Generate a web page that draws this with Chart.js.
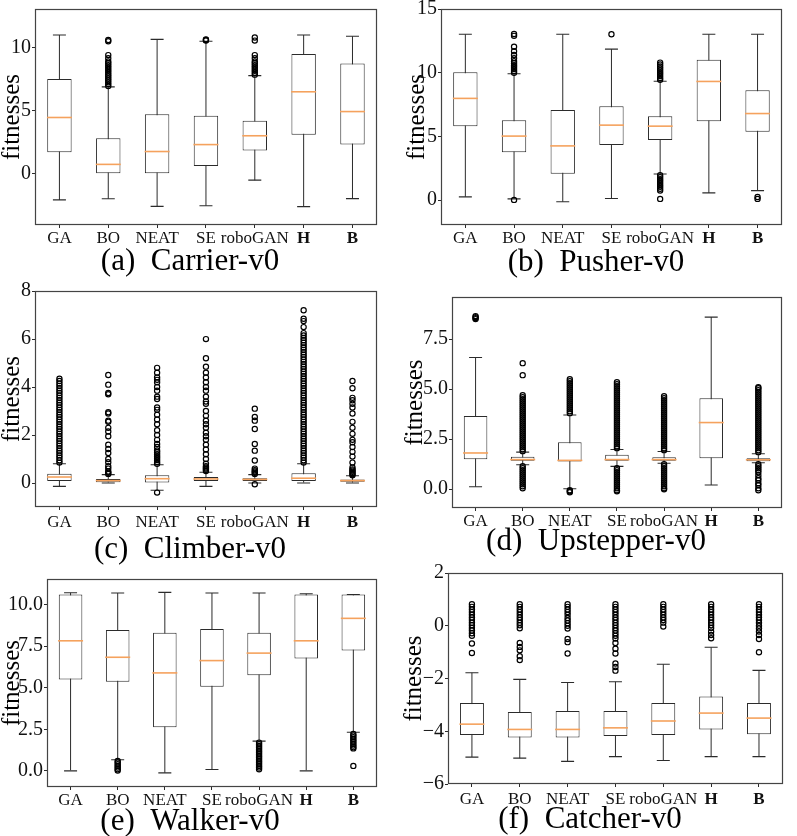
<!DOCTYPE html>
<html>
<head>
<meta charset="utf-8">
<title>Fitness box plots</title>
<script src="https://cdn.jsdelivr.net/npm/chart.js"></script>
<style>
  html, body { margin: 0; padding: 0; background: #fff; overflow: hidden; }
  body { position: relative; width: 797px; height: 836px; }
  canvas { position: absolute; }
</style>
</head>
<body>
<script>
// Box plots of fitness per method, six environments

const categories = ['GA', 'BO', 'NEAT', 'SE', 'roboGAN', 'H', 'B'];

// (a) Carrier-v0
const carrierLow = [-2.09, -2.0, -2.6, -2.55, -0.52, -2.62, -1.99];
const carrierQ1 = [1.70, 0.03, 0.03, 0.6, 1.83, 3.09, 2.3];
const carrierMedian = [4.45, 0.73, 1.75, 2.30, 3.0, 6.49, 4.92];
const carrierQ3 = [7.51, 2.80, 4.71, 4.58, 4.19, 9.48, 8.74];
const carrierHigh = [11.0, 6.88, 10.65, 10.5, 7.77, 11.0, 10.9];
const carrierOutliers = [
  [],
  [6.95, 7.1, 7.25, 7.4, 7.55, 7.7, 7.85, 8.0, 8.15, 8.3, 8.45, 8.6, 8.75, 8.9, 9.15, 9.4, 10.5, 10.6],
  [],
  [10.55, 10.6, 10.65],
  [7.85, 8.0, 8.15, 8.3, 8.45, 8.6, 8.75, 8.9, 9.15, 9.4, 10.55, 10.8],
  [],
  []
];
const carrierRange = [-4.08, 13.05];
const carrierTicks = [0, 5, 10];
const carrierTickLabels = ['0', '5', '10'];

// (b) Pusher-v0
const pusherLow = [0.26, 0.1, -0.13, 0.13, 2.05, 0.57, 0.75];
const pusherQ1 = [5.81, 3.76, 2.08, 4.33, 4.72, 6.2, 5.37];
const pusherMedian = [7.99, 5.03, 4.26, 5.89, 5.81, 9.32, 6.80];
const pusherQ3 = [10.04, 6.28, 7.08, 7.37, 6.59, 11.03, 8.62];
const pusherHigh = [13.03, 9.93, 13.03, 11.86, 9.34, 13.03, 13.03];
const pusherOutliers = [
  [],
  [10.0, 10.15, 10.3, 10.45, 10.6, 10.75, 10.9, 11.15, 11.4, 11.7, 12.05, 12.9, 13.05, 0.02],
  [],
  [13.03],
  [9.45, 9.6, 9.75, 9.9, 10.05, 10.2, 10.35, 10.5, 10.65, 10.8, 1.95, 1.8, 1.65, 1.5, 1.35, 1.2, 1.05, 0.9, 0.75, 0.1],
  [],
  [0.1, 0.25]
];
const pusherRange = [-1.95, 15];
const pusherTicks = [0, 5, 10, 15];
const pusherTickLabels = ['0', '5', '10', '15'];

// (c) Climber-v0
const climberLow = [-0.14, 0.0, -0.3, -0.14, 0.0, 0.0, 0.0];
const climberQ1 = [0.08, 0.03, 0.0, 0.08, 0.08, 0.08, 0.05];
const climberMedian = [0.25, 0.1, 0.18, 0.17, 0.15, 0.2, 0.1];
const climberQ3 = [0.39, 0.17, 0.32, 0.25, 0.2, 0.41, 0.15];
const climberHigh = [0.8, 0.35, 0.76, 0.45, 0.35, 0.8, 0.3];
const climberOutliers = [
  [0.85, 0.95, 1.05, 1.15, 1.25, 1.35, 1.45, 1.55, 1.65, 1.75, 1.85, 1.95, 2.05, 2.15, 2.25, 2.35, 2.45, 2.55,
   2.65, 2.75, 2.85, 2.95, 3.05, 3.15, 3.25, 3.35, 3.45, 3.55, 3.65, 3.75, 3.85, 3.95, 4.05, 4.15, 4.25, 4.35],
  [0.38, 0.43, 0.48, 0.6, 0.7, 0.87, 1.0, 1.25, 1.42, 1.6, 1.95, 2.15, 2.3, 2.55, 2.6, 2.9, 2.95, 3.7, 3.75, 4.1, 4.5],
  [0.8, 0.88, 0.96, 1.04, 1.12, 1.2, 1.28, 1.36, 1.5, 1.63, 1.8, 2.0, 2.2, 2.45, 2.65, 2.85, 3.05, 3.15, 3.5, 3.6,
   3.85, 4.0, 4.2, 4.3, 4.4, 4.6, 4.8, -0.4],
  [0.5, 0.55, 0.6, 0.65, 0.7, 0.8, 1.0, 1.2, 1.4, 1.6, 1.8, 1.95, 2.1, 2.3, 2.45, 2.6, 2.8, 3.0, 3.3, 3.4, 3.6,
   3.85, 4.0, 4.2, 4.4, 4.6, 4.85, 5.2, 6.0],
  [0.38, 0.43, 0.48, 0.53, 0.6, 0.94, 1.35, 1.63, 2.25, 2.6, 2.75, 3.1, -0.05],
  [0.85, 0.95, 1.05, 1.15, 1.25, 1.35, 1.45, 1.55, 1.65, 1.75, 1.85, 1.95, 2.05, 2.15, 2.25, 2.35, 2.45, 2.55,
   2.65, 2.75, 2.85, 2.95, 3.05, 3.15, 3.25, 3.35, 3.45, 3.55, 3.65, 3.75, 3.85, 3.95, 4.05, 4.15, 4.25, 4.35,
   4.45, 4.55, 4.65, 4.75, 4.85, 4.95, 5.05, 5.15, 5.25, 5.35, 5.45, 5.55, 5.65, 5.75, 5.85, 5.95, 6.05, 6.15,
   6.25, 6.5, 6.75, 6.85, 7.2],
  [0.32, 0.37, 0.42, 0.47, 0.52, 0.57, 0.65, 0.85, 1.1, 1.3, 1.5, 1.7, 1.8, 2.05, 2.3, 2.55, 2.9, 3.15, 3.3, 3.45,
   3.55, 3.95, 4.25]
];
const climberRange = [-1.0, 8];
const climberTicks = [0, 2, 4, 6, 8];
const climberTickLabels = ['0', '2', '4', '6', '8'];

// (d) Upstepper-v0
const upstepperLow = [0.12, 1.22, 0.02, 1.14, 1.3, 0.21, 1.32];
const upstepperQ1 = [1.5, 1.42, 1.39, 1.42, 1.42, 1.55, 1.4];
const upstepperMedian = [1.81, 1.48, 1.44, 1.48, 1.48, 3.33, 1.47];
const upstepperQ3 = [3.66, 1.62, 2.34, 1.72, 1.6, 4.54, 1.55];
const upstepperHigh = [6.58, 1.85, 3.71, 1.98, 1.88, 8.6, 1.77];
const upstepperOutliers = [
  [8.5, 8.55, 8.6, 8.65],
  [1.9, 2.0, 2.1, 2.2, 2.3, 2.4, 2.5, 2.6, 2.7, 2.8, 2.9, 3.0, 3.1, 3.2, 3.3, 3.4, 3.5, 3.6, 3.7, 3.8, 3.9, 4.0,
   4.1, 4.2, 4.3, 4.4, 4.5, 4.6, 4.7, 5.7, 6.3,
   1.15, 1.05, 0.95, 0.85, 0.75, 0.65, 0.55, 0.45, 0.35, 0.25, 0.15, 0.05],
  [3.8, 3.9, 4.0, 4.1, 4.2, 4.3, 4.4, 4.5, 4.6, 4.7, 4.8, 4.9, 5.0, 5.1, 5.2, 5.3, 5.4, 5.5, -0.05, -0.1, -0.15],
  [2.05, 2.15, 2.25, 2.35, 2.45, 2.55, 2.65, 2.75, 2.85, 2.95, 3.05, 3.15, 3.25, 3.35, 3.45, 3.55, 3.65, 3.75,
   3.85, 3.95, 4.05, 4.15, 4.25, 4.35, 4.45, 4.55, 4.65, 4.75, 4.85, 4.95, 5.05, 5.15, 5.25, 5.35,
   1.05, 0.95, 0.85, 0.75, 0.65, 0.55, 0.45, 0.35, 0.25, 0.15, 0.05, -0.05, -0.1],
  [1.95, 2.05, 2.15, 2.25, 2.35, 2.45, 2.55, 2.65, 2.75, 2.85, 2.95, 3.05, 3.15, 3.25, 3.35, 3.45, 3.55, 3.65,
   3.75, 3.85, 3.95, 4.05, 4.15, 4.25, 4.35, 4.45, 4.55, 4.65,
   1.25, 1.15, 1.05, 0.95, 0.85, 0.75, 0.65, 0.55, 0.45, 0.35, 0.25, 0.15, 0.05, 0.0],
  [],
  [1.85, 1.95, 2.05, 2.15, 2.25, 2.35, 2.45, 2.55, 2.65, 2.75, 2.85, 2.95, 3.05, 3.15, 3.25, 3.35, 3.45, 3.55,
   3.65, 3.75, 3.85, 3.95, 4.05, 4.15, 4.25, 4.35, 4.45, 4.55, 4.65, 4.75, 4.85, 4.95, 5.05, 5.1,
   1.25, 1.15, 1.05, 0.95, 0.85, 0.7, 0.55, 0.45, 0.3, 0.2, 0.05, -0.05]
];
const upstepperRange = [-0.94, 9.6];
const upstepperTicks = [0, 2.5, 5, 7.5];
const upstepperTickLabels = ['0.0', '2.5', '5.0', '7.5'];

// (e) Walker-v0
const walkerLow = [0.0, 0.67, -0.12, 0.08, 1.79, 0.0, 2.32];
const walkerQ1 = [5.5, 5.36, 2.62, 5.06, 5.75, 6.75, 7.24];
const walkerMedian = [7.82, 6.83, 5.89, 6.63, 7.08, 7.82, 9.17];
const walkerQ3 = [10.6, 8.47, 8.31, 8.53, 8.31, 10.6, 10.6];
const walkerHigh = [10.71, 10.69, 10.73, 10.69, 10.69, 10.65, 10.6];
const walkerOutliers = [
  [],
  [0.6, 0.5, 0.4, 0.3, 0.2, 0.1, 0.02],
  [],
  [],
  [1.7, 1.6, 1.5, 1.4, 1.3, 1.2, 1.1, 1.0, 0.9, 0.8, 0.7, 0.6, 0.5, 0.4, 0.3, 0.2, 0.1],
  [],
  [2.22, 2.12, 2.02, 1.92, 1.82, 1.72, 1.62, 1.52, 1.42, 1.35, 0.3]
];
const walkerRange = [-0.97, 11.53];
const walkerTicks = [0, 2.5, 5, 7.5, 10];
const walkerTickLabels = ['0.0', '2.5', '5.0', '7.5', '10.0'];

// (f) Catcher-v0
const catcherLow = [-4.98, -5.02, -5.14, -4.96, -5.11, -4.96, -4.96];
const catcherQ1 = [-4.14, -4.24, -4.24, -4.18, -4.14, -3.93, -4.11];
const catcherMedian = [-3.73, -3.93, -3.93, -3.87, -3.61, -3.31, -3.5];
const catcherQ3 = [-2.93, -3.27, -3.23, -3.23, -2.93, -2.68, -2.93];
const catcherHigh = [-1.78, -2.03, -2.15, -2.12, -1.46, -0.81, -1.69];
const catcherOutliers = [
  [0.82, 0.72, 0.62, 0.52, 0.42, 0.32, 0.22, 0.12, 0.02, -0.08, -0.18, -0.28, -0.38, -0.67, -1.03],
  [0.82, 0.72, 0.62, 0.52, 0.42, 0.32, 0.22, 0.12, 0.02, -0.09, -0.65, -0.8, -0.93, -1.15, -1.3],
  [0.82, 0.72, 0.62, 0.52, 0.42, 0.3, 0.2, 0.1, 0.0, -0.1, -0.5, -0.62, -1.05],
  [0.82, 0.72, 0.62, 0.52, 0.42, 0.32, 0.22, 0.12, 0.02, -0.08, -0.18, -0.28, -0.38, -0.48, -0.65, -0.87, -1.05,
   -1.43, -1.56, -1.7],
  [0.82, 0.72, 0.62, 0.52, 0.42, 0.32, 0.22, 0.12, -0.03],
  [0.82, 0.72, 0.62, 0.52, 0.42, 0.32, 0.22, 0.12, 0.02, -0.08, -0.22, -0.35, -0.47],
  [0.82, 0.72, 0.62, 0.52, 0.42, 0.32, 0.22, 0.12, 0.0, -0.1, -0.22, -0.35, -0.5, -1.0]
];
const catcherRange = [-6, 2];
const catcherTicks = [-6, -4, -2, 0, 2];
const catcherTickLabels = ['\u22126', '\u22124', '\u22122', '0', '2'];

// Styles
const SERIF = "'Liberation Serif', 'Times New Roman', serif";
const LINE = '#2b2b2b';
const MEDIAN = '#f5a25d';
const TITLE_SIZE = 31;
const YLAB_SIZE = 25;
const XTICK_SIZE = 17;
const YTICK_SIZE = 20;
const TICK_LEN = 3;

// Panel placement on the page: plot box (L,T,R,B), title centre (tx,ty),
// x tick label centre line (xy), y label centre (yx)
const panels = [
  { title: '(a)  Carrier-v0', low: carrierLow, q1: carrierQ1, median: carrierMedian, q3: carrierQ3, high: carrierHigh,
    outliers: carrierOutliers, range: carrierRange, ticks: carrierTicks, tickLabels: carrierTickLabels,
    box: { L: 35, T: 7, R: 387, B: 225, tx: 190, ty: 262, xy: 239, yx: 12 } },
  { title: '(b)  Pusher-v0', low: pusherLow, q1: pusherQ1, median: pusherMedian, q3: pusherQ3, high: pusherHigh,
    outliers: pusherOutliers, range: pusherRange, ticks: pusherTicks, tickLabels: pusherTickLabels,
    box: { L: 441, T: 7, R: 792, B: 225, tx: 596, ty: 263, xy: 239, yx: 417 } },
  { title: '(c)  Climber-v0', low: climberLow, q1: climberQ1, median: climberMedian, q3: climberQ3, high: climberHigh,
    outliers: climberOutliers, range: climberRange, ticks: climberTicks, tickLabels: climberTickLabels,
    box: { L: 35, T: 289, R: 387, B: 507, tx: 190, ty: 550, xy: 523, yx: 12 } },
  { title: '(d)  Upstepper-v0', low: upstepperLow, q1: upstepperQ1, median: upstepperMedian, q3: upstepperQ3, high: upstepperHigh,
    outliers: upstepperOutliers, range: upstepperRange, ticks: upstepperTicks, tickLabels: upstepperTickLabels,
    box: { L: 452, T: 295, R: 792, B: 508, tx: 596, ty: 542, xy: 522, yx: 415 } },
  { title: '(e)  Walker-v0', low: walkerLow, q1: walkerQ1, median: walkerMedian, q3: walkerQ3, high: walkerHigh,
    outliers: walkerOutliers, range: walkerRange, ticks: walkerTicks, tickLabels: walkerTickLabels,
    box: { L: 47, T: 577, R: 387, B: 787, tx: 190, ty: 822, xy: 801, yx: 12 } },
  { title: '(f)  Catcher-v0', low: catcherLow, q1: catcherQ1, median: catcherMedian, q3: catcherQ3, high: catcherHigh,
    outliers: catcherOutliers, range: catcherRange, ticks: catcherTicks, tickLabels: catcherTickLabels,
    box: { L: 448, T: 571, R: 793, B: 784, tx: 590, ty: 820, xy: 800, yx: 414 } }
];

// Frame around the plot area (matplotlib spines)
const framePlugin = {
  id: 'frame',
  afterDatasetsDraw(chart) {
    const a = chart.chartArea;
    const ctx = chart.ctx;
    ctx.save();
    ctx.strokeStyle = '#444';
    ctx.lineWidth = 1.2;
    ctx.strokeRect(Math.round(a.left) + 0.5, Math.round(a.top) + 0.5,
      Math.round(a.right - a.left) - 1, Math.round(a.bottom - a.top) - 1);
    ctx.restore();
  }
};

// Work out canvas size and paddings so the plot box lands where it is in the figure
function geometry(b) {
  const cx = 2 * b.tx - b.R;
  const cy = b.T - 12;
  const width = Math.ceil(b.R - cx + 4);
  const xh = b.ty - TITLE_SIZE / 2 - b.B;
  const height = Math.ceil(b.B - cy + xh + TITLE_SIZE + 4);
  return {
    left: cx, top: cy, width, height, xh,
    yw: b.L - cx,
    pad: { left: 0, top: b.T - cy, right: width - (b.R - cx), bottom: height - (b.B - cy) - xh - TITLE_SIZE },
    ylabPad: b.yx - cx - YLAB_SIZE / 2,
    xtickPad: b.xy - b.B - TICK_LEN - XTICK_SIZE / 2
  };
}

function buildPanel(p) {
  const g = geometry(p.box);
  const canvas = document.createElement('canvas');
  canvas.width = g.width;
  canvas.height = g.height;
  canvas.style.left = g.left + 'px';
  canvas.style.top = g.top + 'px';
  canvas.style.width = g.width + 'px';
  canvas.style.height = g.height + 'px';
  document.body.appendChild(canvas);

  const capPoints = [];
  const outlierPoints = [];
  categories.forEach((c, i) => {
    capPoints.push({ x: c, y: p.low[i] }, { x: c, y: p.high[i] });
    p.outliers[i].forEach(v => outlierPoints.push({ x: c, y: v }));
  });

  new Chart(canvas, {
    type: 'bar',
    data: {
      labels: categories,
      datasets: [
        {
          type: 'line', data: outlierPoints, showLine: false, order: 1,
          pointStyle: 'circle', pointRadius: 2.6, pointBorderWidth: 1.2,
          pointBorderColor: '#000', pointBackgroundColor: 'rgba(0,0,0,0)'
        },
        {
          type: 'line', data: categories.map((c, i) => ({ x: c, y: p.median[i] })), showLine: false, order: 2,
          pointStyle: 'line', pointRadius: 12.5, pointBorderWidth: 1.6, pointBorderColor: MEDIAN
        },
        {
          type: 'line', data: capPoints, showLine: false, order: 3,
          pointStyle: 'line', pointRadius: 6.5, pointBorderWidth: 1.1, pointBorderColor: LINE
        },
        {
          type: 'bar', data: categories.map((c, i) => [p.q1[i], p.q3[i]]), order: 4,
          backgroundColor: '#fff', borderColor: LINE, borderWidth: 1, borderSkipped: false,
          barPercentage: 0.5, categoryPercentage: 1, grouped: false
        },
        {
          type: 'bar', data: categories.map((c, i) => [p.low[i], p.high[i]]), order: 5,
          backgroundColor: LINE, borderWidth: 0, maxBarThickness: 1,
          barPercentage: 0.5, categoryPercentage: 1, grouped: false
        }
      ]
    },
    options: {
      responsive: false,
      animation: false,
      events: [],
      layout: { padding: g.pad },
      plugins: {
        legend: { display: false },
        tooltip: { enabled: false },
        title: {
          display: true, position: 'bottom', text: p.title, color: '#000', padding: 0,
          font: { family: SERIF, size: TITLE_SIZE, weight: 'normal', lineHeight: 1 }
        }
      },
      scales: {
        x: {
          offset: true,
          border: { display: false },
          grid: { display: true, offset: false, drawOnChartArea: false, drawTicks: true, tickLength: TICK_LEN, tickColor: LINE },
          ticks: {
            autoSkip: false, maxRotation: 0, minRotation: 0, padding: g.xtickPad, color: '#111',
            font: c => ({ family: SERIF, size: XTICK_SIZE, lineHeight: 1, weight: c.index >= 5 ? 'bold' : 'normal' })
          },
          afterFit: s => { s.height = g.xh; }
        },
        y: {
          min: p.range[0],
          max: p.range[1],
          border: { display: false },
          grid: { display: true, drawOnChartArea: false, drawTicks: true, tickLength: TICK_LEN, tickColor: LINE },
          ticks: {
            padding: 1, color: '#111',
            font: { family: SERIF, size: YTICK_SIZE, lineHeight: 1 },
            callback: (v, i) => p.tickLabels[i]
          },
          afterBuildTicks: s => { s.ticks = p.ticks.map(v => ({ value: v })); },
          title: {
            display: true, text: 'fitnesses', color: '#000',
            font: { family: SERIF, size: YLAB_SIZE, lineHeight: 1 },
            padding: { top: g.ylabPad, bottom: 0 }
          },
          afterFit: s => { s.width = g.yw; }
        }
      }
    },
    plugins: [framePlugin]
  });
}

panels.forEach(buildPanel);
</script>
</body>
</html>
